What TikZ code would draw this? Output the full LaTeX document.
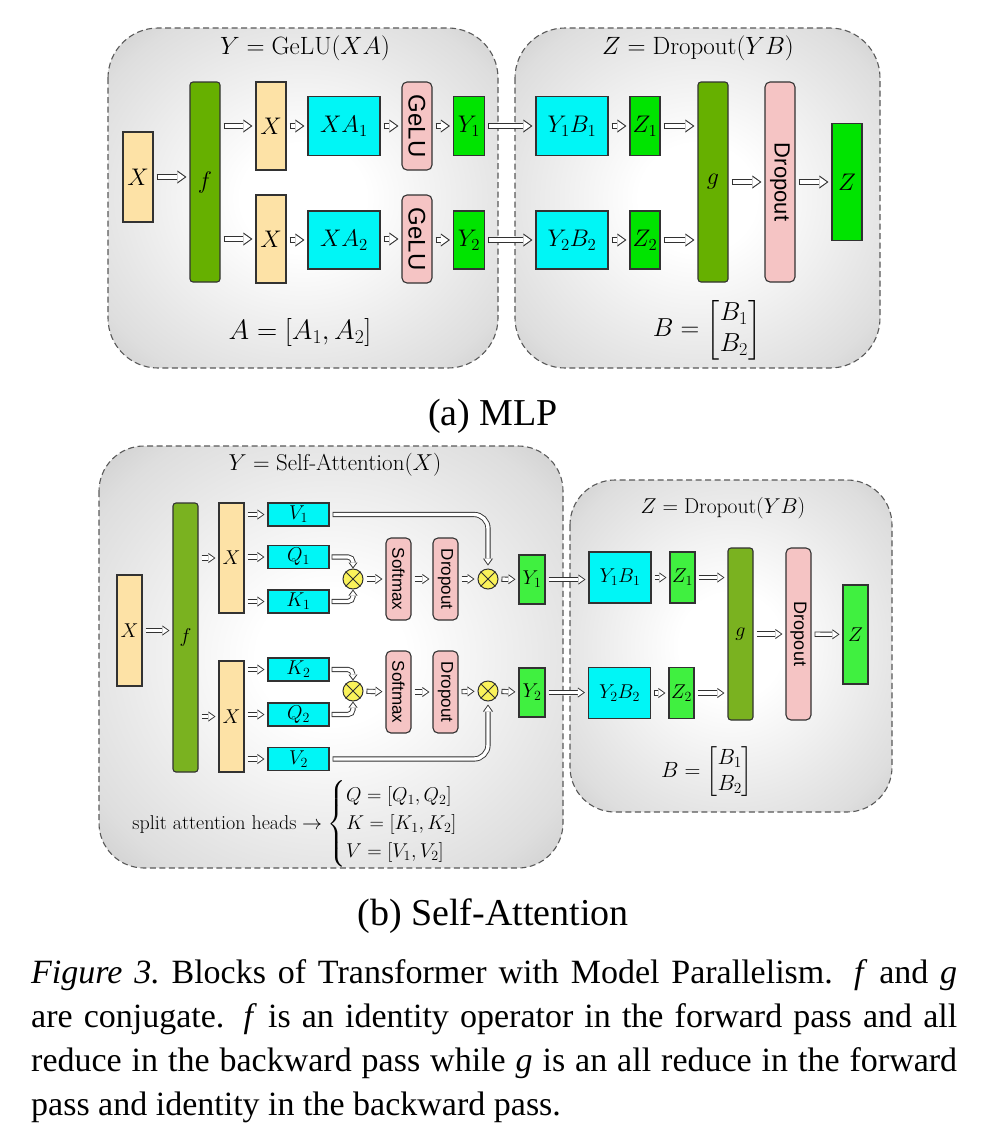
\RequirePackage{fix-cm}
\documentclass[tikz,border=0pt]{standalone}
\usepackage{amsmath}
\usepackage{fontspec}
\newfontfamily\helv{Liberation Sans}
\newfontfamily\capfont{Liberation Serif}
\usepackage{tikz}
\usetikzlibrary{shapes,arrows,arrows.meta}

\definecolor{xcol}{RGB}{253,226,166}
\definecolor{fcol}{RGB}{102,176,0}
\definecolor{fcolb}{RGB}{122,178,32}
\definecolor{mcol}{RGB}{0,246,246}
\definecolor{pcol}{RGB}{245,196,196}
\definecolor{ycol}{RGB}{0,228,0}
\definecolor{ycolb}{RGB}{64,240,64}
\definecolor{ocol}{RGB}{250,242,90}
\definecolor{lcol}{RGB}{50,50,50}

\pgfdeclareradialshading{panelshade}{\pgfpoint{0bp}{0bp}}{color(0bp)=(white); color(8bp)=(white); color(30bp)=(black!13); color(50bp)=(black!35)}

\newcommand{\vtext}[1]{\rotatebox{-90}{\helv #1}}

\begin{document}
\begin{tikzpicture}[x=1pt,y=-1pt]
  \tikzstyle{panel} = [draw=black!65, line width=1.1pt, dash pattern=on 6pt off 3.5pt, shading=panelshade]
  \tikzstyle{box} = [rectangle, draw=lcol, line width=1.1pt, inner sep=0pt]
  \tikzstyle{xbox} = [box, fill=xcol]
  \tikzstyle{fbox} = [box, fill=fcol, rounded corners=3pt]
  \tikzstyle{mbox} = [box, fill=mcol]
  \tikzstyle{pbox} = [box, fill=pcol, rounded corners=5pt]
  \tikzstyle{ybox} = [box, fill=ycol]
  \tikzstyle{otimes} = [circle, draw=lcol, fill=ocol, line width=1pt, minimum size=20pt, inner sep=0pt]
  % hollow arrows: dark stroke, white stroke on top
  \tikzstyle{arr} = [draw=lcol, line width=6.6pt, shorten <=3pt, shorten >=3pt,
    -{Triangle[length=9pt, width=13pt, line width=0pt]},
    postaction={draw=white, line width=4.4pt, shorten <=4.1pt, shorten >=4.8pt,
      -{Triangle[length=7.2pt, width=10.2pt, line width=0pt]}}]
  \tikzstyle{arrb} = [draw=lcol, line width=5.2pt, shorten <=3pt, shorten >=3pt,
    -{Triangle[length=7pt, width=10pt, line width=0pt]},
    postaction={draw=white, line width=3.4pt, shorten <=3.9pt, shorten >=4.5pt,
      -{Triangle[length=5.5pt, width=7.6pt, line width=0pt]}}]
  \tikzstyle{arrc} = [draw=lcol, line width=5.2pt, shorten <=2pt, shorten >=0pt, rounded corners=5pt,
    -{Triangle[length=6pt, width=9pt, line width=0pt]},
    postaction={draw=white, line width=3.4pt, shorten <=2.9pt, shorten >=1.5pt,
      -{Triangle[length=4.5pt, width=6.6pt, line width=0pt]}}]
  \useasboundingbox (0,0) rectangle (984,1136);

  % (a) MLP
  \shadedraw[panel, rounded corners=50pt] (108,28) rectangle (498,368);
  \shadedraw[panel, rounded corners=50pt] (515,28) rectangle (880,368);
  \begin{scope}[font=\fontsize{24}{29}\selectfont]
    \node (ta) at (305,48) {\fontsize{25}{30}\selectfont $Y=\mathrm{GeLU}(XA)$};
    \node (tb) at (698,48) {\fontsize{25}{30}\selectfont $Z=\mathrm{Dropout}(YB)$};
    \node (xin) [xbox, minimum width=30pt, minimum height=90pt] at (138,177) {$X$};
    \node (fa) [fbox, minimum width=30pt, minimum height=200pt] at (205,182) {$f$};
    % first row
    \node (xa1) [xbox, minimum width=30pt, minimum height=88pt] at (271,126) {$X$};
    \node (xw1) [mbox, minimum width=72pt, minimum height=59pt] at (344,126) {$XA_1$};
    \node (ge1) [pbox, minimum width=30pt, minimum height=88pt] at (417,126) {\vtext{GeLU}};
    \node (ya1) [ybox, minimum width=31pt, minimum height=59pt] at (469,126) {$Y_1$};
    \node (yw1) [mbox, minimum width=72pt, minimum height=59pt] at (572,126) {$Y_1B_1$};
    \node (za1) [ybox, minimum width=30pt, minimum height=59pt] at (645,126) {$Z_1$};
    % second row
    \node (xa2) [xbox, minimum width=30pt, minimum height=88pt] at (271,239) {$X$};
    \node (xw2) [mbox, minimum width=72pt, minimum height=58pt] at (344,240) {$XA_2$};
    \node (ge2) [pbox, minimum width=30pt, minimum height=88pt] at (417,239) {\vtext{GeLU}};
    \node (ya2) [ybox, minimum width=31pt, minimum height=58pt] at (469,240) {$Y_2$};
    \node (yw2) [mbox, minimum width=72pt, minimum height=58pt] at (572,240) {$Y_2B_2$};
    \node (za2) [ybox, minimum width=30pt, minimum height=58pt] at (645,240) {$Z_2$};
    \node (ga) [fbox, minimum width=30pt, minimum height=200pt] at (713,182) {$g$};
    \node (da) [pbox, minimum width=30pt, minimum height=200pt] at (780,182) {\fontsize{22}{26}\selectfont\vtext{Dropout}};
    \node (zouta) [ybox, minimum width=30pt, minimum height=117pt] at (847,182) {$Z$};
    \node (aeq) at (300,332) {\fontsize{28}{33}\selectfont $A=[A_1,A_2]$};
    \node (beq) at (707,330) {\fontsize{26}{31}\selectfont $B=\begin{bmatrix}B_1\\B_2\end{bmatrix}$};
  \end{scope}
  \draw[arr] (xin.east) -- (xin.east -| fa.west);
  \draw[arr] (fa.east |- xa1) -- (xa1.west);
  \draw[arr] (fa.east |- xa2) -- (xa2.west);
  \draw[arr] (xa1) -- (xw1);
  \draw[arr] (xw1) -- (ge1);
  \draw[arr] (ge1) -- (ya1);
  \draw[arr] (ya1) -- (yw1);
  \draw[arr] (yw1) -- (za1);
  \draw[arr] (za1.east) -- (za1.east -| ga.west);
  \draw[arr] (xa2.east |- xw2) -- (xw2.west);
  \draw[arr] (xw2.east |- ge2) -- (ge2.west);
  \draw[arr] (ge2.east |- ya2) -- (ya2.west);
  \draw[arr] (ya2) -- (yw2);
  \draw[arr] (yw2) -- (za2);
  \draw[arr] (za2.east) -- (za2.east -| ga.west);
  \draw[arr] (ga) -- (da);
  \draw[arr] (da) -- (zouta);

  % (b) Self-Attention
  \shadedraw[panel, rounded corners=45pt] (99,446) rectangle (563,868);
  \shadedraw[panel, rounded corners=45pt] (570,480) rectangle (892,812);
  \begin{scope}[font=\fontsize{20}{23}\selectfont]
    \node (tc) at (335,465) {\fontsize{23}{27}\selectfont $Y=\text{Self-Attention}(X)$};
    \node (td) at (723,508) {\fontsize{21.5}{25}\selectfont $Z=\mathrm{Dropout}(YB)$};
    \node (xinb) [xbox, minimum width=25pt, minimum height=111pt] at (129.5,630.5) {$X$};
    \node (fb) [fbox, fill=fcolb, minimum width=25pt, minimum height=269pt] at (185.5,637.5) {$f$};
    % first head
    \node (xb1) [xbox, minimum width=25pt, minimum height=110pt] at (231.5,558) {$X$};
    \node (v1) [mbox, minimum width=61pt, minimum height=23pt] at (298.5,514.5) {$V_1$};
    \node (q1) [mbox, minimum width=61pt, minimum height=23pt] at (298.5,557) {$Q_1$};
    \node (k1) [mbox, minimum width=61pt, minimum height=23pt] at (298.5,601.5) {$K_1$};
    \node (ot1) [otimes] at (353,579) {};
    \node (sm1) [pbox, minimum width=25pt, minimum height=82pt] at (398.5,579) {\fontsize{17}{20}\selectfont\vtext{Softmax}};
    \node (dr1) [pbox, minimum width=25pt, minimum height=82pt] at (445.5,579) {\fontsize{17}{20}\selectfont\vtext{Dropout}};
    \node (ot2) [otimes] at (488,579) {};
    \node (yb1) [ybox, fill=ycolb, minimum width=26pt, minimum height=49pt] at (532,579.5) {$Y_1$};
    % second head
    \node (xb2) [xbox, minimum width=25pt, minimum height=111pt] at (231.5,716.5) {$X$};
    \node (k2) [mbox, minimum width=61pt, minimum height=23pt] at (298.5,669.5) {$K_2$};
    \node (q2) [mbox, minimum width=61pt, minimum height=23pt] at (298.5,714.5) {$Q_2$};
    \node (v2) [mbox, minimum width=61pt, minimum height=23pt] at (298.5,759) {$V_2$};
    \node (ot3) [otimes] at (353,691) {};
    \node (sm2) [pbox, minimum width=25pt, minimum height=82pt] at (398.5,692) {\fontsize{17}{20}\selectfont\vtext{Softmax}};
    \node (dr2) [pbox, minimum width=25pt, minimum height=82pt] at (445.5,692) {\fontsize{17}{20}\selectfont\vtext{Dropout}};
    \node (ot4) [otimes] at (488,691) {};
    \node (yb2) [ybox, fill=ycolb, minimum width=26pt, minimum height=49pt] at (532,692.5) {$Y_2$};
    % right part
    \node (yv1) [mbox, minimum width=62pt, minimum height=51pt] at (620,577.5) {$Y_1B_1$};
    \node (zb1) [ybox, fill=ycolb, minimum width=25pt, minimum height=51pt] at (682.5,577.5) {$Z_1$};
    \node (yv2) [mbox, minimum width=62pt, minimum height=51pt] at (619.5,693) {$Y_2B_2$};
    \node (zb2) [ybox, fill=ycolb, minimum width=25pt, minimum height=51pt] at (681.5,693) {$Z_2$};
    \node (gb) [fbox, fill=fcolb, minimum width=25pt, minimum height=172pt] at (740.5,634) {$g$};
    \node (db) [pbox, minimum width=25pt, minimum height=172pt] at (798.5,634) {\fontsize{18}{21}\selectfont\vtext{Dropout}};
    \node (zoutb) [ybox, fill=ycolb, minimum width=25pt, minimum height=99pt] at (855.5,634.5) {$Z$};
    \node (beqb) at (707,772) {\fontsize{22}{26}\selectfont $B=\begin{bmatrix}B_1\\B_2\end{bmatrix}$};
    \node (split) at (305,824) {$\text{split attention heads}\rightarrow\begin{cases}Q=[Q_1,Q_2]\\K=[K_1,K_2]\\V=[V_1,V_2]\end{cases}$};
  \end{scope}
  \draw[lcol, line width=0.9pt] (ot1.north east) -- (ot1.south west);
  \draw[lcol, line width=0.9pt] (ot1.north west) -- (ot1.south east);
  \draw[lcol, line width=0.9pt] (ot2.north east) -- (ot2.south west);
  \draw[lcol, line width=0.9pt] (ot2.north west) -- (ot2.south east);
  \draw[lcol, line width=0.9pt] (ot3.north east) -- (ot3.south west);
  \draw[lcol, line width=0.9pt] (ot3.north west) -- (ot3.south east);
  \draw[lcol, line width=0.9pt] (ot4.north east) -- (ot4.south west);
  \draw[lcol, line width=0.9pt] (ot4.north west) -- (ot4.south east);
  \draw[arrb] (xinb.east) -- (xinb.east -| fb.west);
  \draw[arrb] (fb.east |- xb1) -- (xb1.west);
  \draw[arrb] (fb.east |- xb2) -- (xb2.west);
  \draw[arrb] (xb1.east |- v1) -- (v1.west);
  \draw[arrb] (xb1.east |- q1) -- (q1.west);
  \draw[arrb] (xb1.east |- k1) -- (k1.west);
  \draw[arrb] (xb2.east |- k2) -- (k2.west);
  \draw[arrb] (xb2.east |- q2) -- (q2.west);
  \draw[arrb] (xb2.east |- v2) -- (v2.west);
  \draw[arrc] (q1.east) -| (ot1.north);
  \draw[arrc] (k1.east) -| (ot1.south);
  \draw[arrc] (k2.east) -| (ot3.north);
  \draw[arrc] (q2.east) -| (ot3.south);
  \draw[arrb, rounded corners=14pt] (v1.east) -| (ot2.north);
  \draw[arrb, rounded corners=14pt] (v2.east) -| (ot4.south);
  \draw[arrb] (ot1) -- (sm1);
  \draw[arrb] (sm1) -- (dr1);
  \draw[arrb] (dr1) -- (ot2);
  \draw[arrb] (ot2) -- (yb1);
  \draw[arrb] (ot3) -- (sm2);
  \draw[arrb] (sm2) -- (dr2);
  \draw[arrb] (dr2) -- (ot4);
  \draw[arrb] (ot4) -- (yb2);
  \draw[arrb] (yb1.east) -- (yb1.east -| yv1.west);
  \draw[arrb] (yb2.east) -- (yb2.east -| yv2.west);
  \draw[arrb] (yv1) -- (zb1);
  \draw[arrb] (yv2) -- (zb2);
  \draw[arrb] (zb1.east) -- (zb1.east -| gb.west);
  \draw[arrb] (zb2.east) -- (zb2.east -| gb.west);
  \draw[arrb] (gb) -- (db);
  \draw[arrb] (db) -- (zoutb);

  % captions
  \node (suba) [anchor=base, font=\capfont\fontsize{38}{44}\selectfont] at (493,425) {(a) MLP};
  \node (subb) [anchor=base, font=\capfont\fontsize{38}{44}\selectfont] at (493,925) {(b) Self-Attention};
  \node (cap) [anchor=north west, text width=926pt, align=justify, inner sep=0pt, font=\capfont\fontsize{34}{44}\selectfont] at (31,959)
    {\textit{Figure 3.}\ Blocks of Transformer with Model Parallelism. \textit{f} and \textit{g}\linebreak
     are conjugate. \textit{f} is an identity operator in the forward pass and all\linebreak
     reduce in the backward pass while \textit{g} is an all reduce in the forward\linebreak
     pass and identity in the backward pass.};
\end{tikzpicture}
\end{document}
